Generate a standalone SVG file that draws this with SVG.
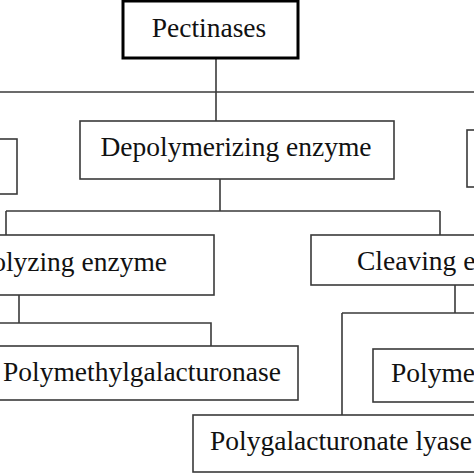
<svg xmlns="http://www.w3.org/2000/svg" width="474" height="474" viewBox="0 0 474 474">
<style>
.box{fill:#fff;stroke:#3a3a3a;stroke-width:1.6}
.main{fill:#fff;stroke:#000;stroke-width:3}
.lbl{font-family:"Liberation Serif","Times New Roman",serif;font-size:27.5px;fill:#111}
.con{fill:none;stroke:#3a3a3a;stroke-width:1.6}
</style>
<rect width="474" height="474" fill="#fff"/>
<g id="connectors">
<path class="con" d="M216 59V121"/>
<path class="con" d="M0 92H474"/>
<path class="con" d="M220 179V211M6 211H440M6 211V235M440 211V235"/>
<path class="con" d="M19 295V323M-10 323H211V346"/>
<path class="con" d="M455 285V313M342 313H480M342 313V415"/>
</g>
<g id="pectinases">
<rect class="main" x="123" y="1" width="175" height="57"/>
<text class="lbl" x="209" y="37" text-anchor="middle">Pectinases</text>
</g>
<g id="left-partial">
<rect class="box" x="-40" y="139" width="57" height="55"/>
</g>
<g id="depolymerizing">
<rect class="box" x="80" y="121" width="314" height="58"/>
<text class="lbl" x="236" y="156" text-anchor="middle">Depolymerizing enzyme</text>
</g>
<g id="right-partial">
<rect class="box" x="467" y="130" width="40" height="57"/>
</g>
<g id="hydrolyzing">
<rect class="box" x="-80" y="235" width="294" height="60"/>
<text class="lbl" x="167" y="271" text-anchor="end">Hydrolyzing enzyme</text>
</g>
<g id="cleaving">
<rect class="box" x="311" y="235" width="200" height="50"/>
<text class="lbl" x="357" y="270">Cleaving enzyme</text>
</g>
<g id="polymethylgalacturonase">
<rect class="box" x="-20" y="346" width="318" height="54"/>
<text class="lbl" x="3" y="381">Polymethylgalacturonase</text>
</g>
<g id="polymethylgalacturonate-lyase">
<rect class="box" x="373" y="349" width="140" height="53"/>
<text class="lbl" x="391" y="382">Polymethylgalacturonate lyase</text>
</g>
<g id="polygalacturonate-lyase">
<rect class="box" x="193" y="415" width="300" height="57"/>
<text class="lbl" x="210" y="450">Polygalacturonate lyase</text>
</g>
</svg>
